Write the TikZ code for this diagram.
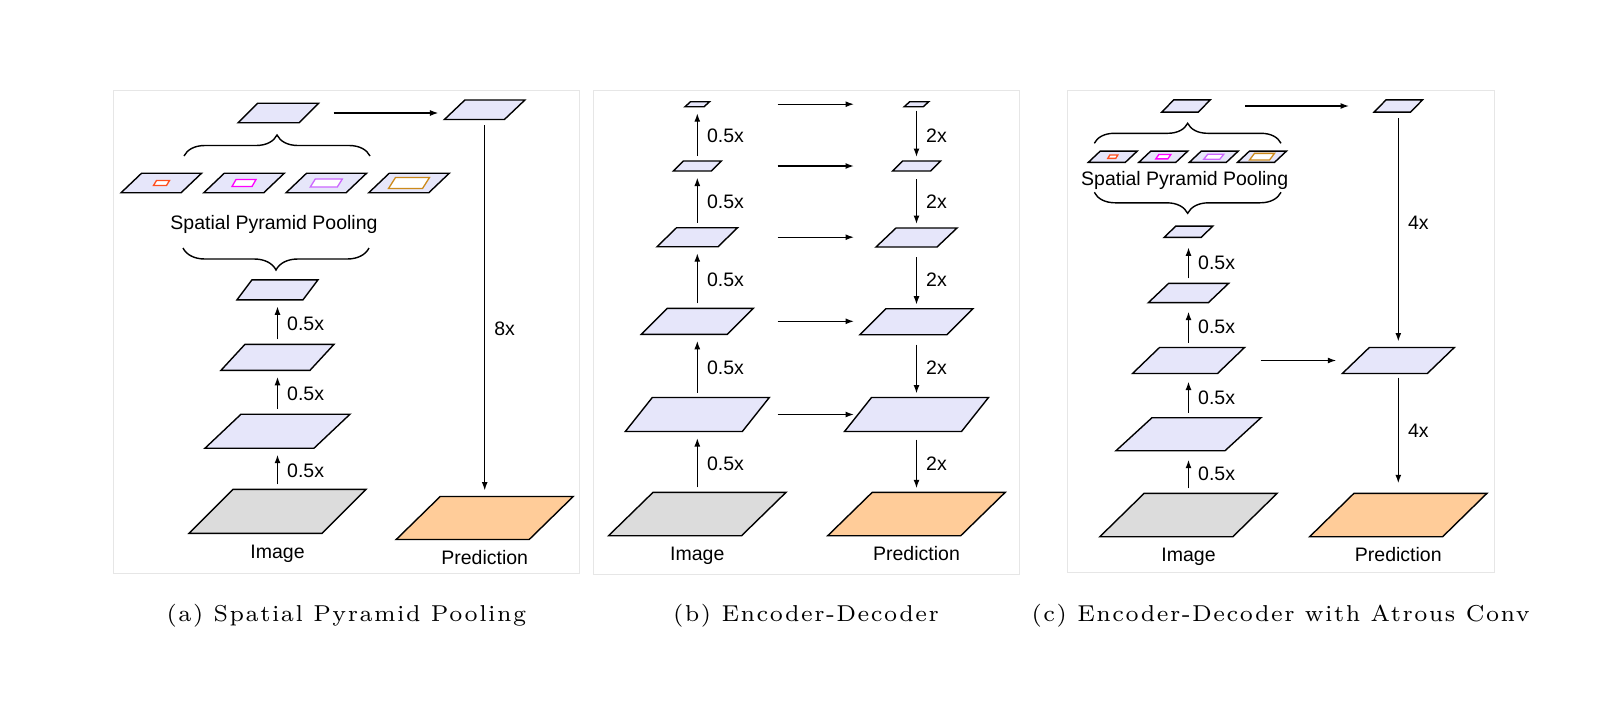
\documentclass[tikz,border=0pt]{standalone}
\usepackage{fontspec}
\setmainfont{Liberation Sans}
\newfontfamily\capfont[LetterSpace=6.5]{lmroman7-regular.otf}
\usetikzlibrary{arrows.meta,decorations.pathreplacing}

\definecolor{lav}{HTML}{E6E6FA}
\definecolor{imggray}{HTML}{DCDCDC}
\definecolor{predorange}{HTML}{FFCC99}
\definecolor{framegray}{HTML}{E6E6E6}
\definecolor{winred}{HTML}{FF4F1F}
\definecolor{winmag}{HTML}{FF00FF}
\definecolor{winvio}{HTML}{CC66FF}
\definecolor{wingold}{HTML}{CC8A1A}

% feature map: name, x, y, top width, height, slant, fill
\newcommand{\layer}[7]{%
  \filldraw[plane, fill=#7] ({#2-(#4+#6)/2},{#3+#5/2}) -- ++(#4,0) -- ++(#6,-#5) -- ++(-#4,0) -- cycle;
  \node[hold, minimum width={#4+#6}, minimum height={#5}] (#1) at (#2,#3) {};
}
% pooling window: x, y, top width, height, slant, colour
\newcommand{\window}[6]{%
  \filldraw[win, draw=#6, fill=white] ({#1-(#3+#5)/2},{#2+#4/2}) -- ++(#3,0) -- ++(#5,-#4) -- ++(-#3,0) -- cycle;
}

\begin{document}
\begin{tikzpicture}[x=1pt, y=-1pt,
	plane/.style={draw=black, line width=1.4pt, line join=miter},
	hold/.style={inner sep=0pt, outer sep=0pt, draw=none},
	win/.style={line width=1.3pt},
	arr/.style={line width=1.4pt, -{Latex[length=8.5pt,width=6pt]}},
	uparr/.style={arr, shorten <=5pt, shorten >=6.5pt},
	downarr/.style={arr, shorten <=6pt, shorten >=6pt},
	rate/.style={font=\fontsize{19.5}{22}\selectfont, inner sep=0pt, anchor=west, xshift=9pt, yshift=-2pt},
	lbl/.style={font=\fontsize{19.5}{22}\selectfont, inner sep=0pt, anchor=base},
	brc/.style={decorate, decoration={brace, amplitude=#1}, line width=1.4pt},
	panel/.style={draw=framegray, line width=1pt},
	capline/.style={font=\capfont\fontsize{23}{26}\selectfont, inner sep=0pt, anchor=base}]
	\useasboundingbox (0,0) rectangle (1600,713);

	% frames
	\draw[panel] (113,90) rectangle (579,573.3);
	\draw[panel] (593,90.7) rectangle (1019.3,574.3);
	\draw[panel] (1067.5,90) rectangle (1494,572.7);

	% (a) spatial pyramid pooling
	\layer{aimg}{277.5}{511.3}{133}{44}{44}{imggray}
	\layer{al1}{277.5}{431.2}{109}{34}{36}{lav}
	\layer{al2}{277.5}{357.3}{89}{26}{24}{lav}
	\layer{al3}{277.5}{289.8}{66}{20}{15}{lav}
	\layer{ap1}{161.3}{183}{60}{19.5}{20.5}{lav}
	\layer{ap2}{244}{183}{60}{19.5}{20.5}{lav}
	\layer{ap3}{326.3}{183}{60}{19.5}{20.5}{lav}
	\layer{ap4}{409}{183}{60}{19.5}{20.5}{lav}
	\window{161.5}{183}{13}{5}{3}{winred}
	\window{244}{183}{20}{7}{4}{winmag}
	\window{326.3}{183}{27}{8}{5}{winvio}
	\window{409}{183}{34}{11}{7}{wingold}
	\layer{atop}{278.3}{113}{61}{19.5}{19.5}{lav}
	\layer{aout}{484.7}{109.7}{60}{19.5}{20.5}{lav}
	\layer{apred}{484.7}{518}{133}{43}{44}{predorange}
	\node[lbl] (aimgtxt) at ([yshift=-25pt]aimg.south) {Image};
	\node[lbl] (apredtxt) at ([yshift=-25pt]apred.south) {Prediction};
	\node[lbl] (aspp) at (274,229) {Spatial Pyramid Pooling};
	\draw[brc=21pt] (184,156) -- (370,156);
	\draw[brc=22pt] (369,248) -- (183,248);
	\draw[uparr] (aimg.north) -- node[rate]{0.5x} (aimg.north |- al1.south);
	\draw[uparr] (al1.north) -- node[rate]{0.5x} (al1.north |- al2.south);
	\draw[uparr] (al2.north) -- node[rate]{0.5x} (al2.north |- al3.south);
	\draw[arr, shorten <=15pt, shorten >=6pt] (atop.east) -- (atop.east -| aout.west);
	\draw[downarr] (aout.south) -- node[rate, pos=0.55]{8x} (aout.south |- apred.north);

	% (b) encoder-decoder
	\layer{be4}{697.3}{104.2}{19}{5}{5.5}{lav}
	\layer{be3}{697.3}{166}{38}{10}{10}{lav}
	\layer{be2}{697.3}{237.2}{61}{19}{19.5}{lav}
	\layer{be1}{697.3}{321.3}{86}{26}{26}{lav}
	\layer{be0}{697.3}{414.5}{117}{34}{27}{lav}
	\layer{bimg}{697.3}{514}{133}{43.4}{44.5}{imggray}
	\layer{bd4}{916.5}{104.2}{19}{5}{5.5}{lav}
	\layer{bd3}{916.5}{166}{38}{10}{10}{lav}
	\layer{bd2}{916.5}{237.5}{61}{19}{20}{lav}
	\layer{bd1}{916.5}{321.7}{87}{26}{26}{lav}
	\layer{bd0}{916.5}{414.5}{117}{34}{27}{lav}
	\layer{bpred}{916.5}{514}{133}{43.4}{44.5}{predorange}
	\node[lbl] (bimgtxt) at ([yshift=-25pt]bimg.south) {Image};
	\node[lbl] (bpredtxt) at ([yshift=-25pt]bpred.south) {Prediction};
	\draw[uparr] (bimg.north) -- node[rate]{0.5x} (bimg.north |- be0.south);
	\draw[uparr] (be0.north) -- node[rate]{0.5x} (be0.north |- be1.south);
	\draw[uparr] (be1.north) -- node[rate]{0.5x} (be1.north |- be2.south);
	\draw[uparr] (be2.north) -- node[rate]{0.5x} (be2.north |- be3.south);
	\draw[uparr] (be3.north) -- node[rate]{0.5x} (be3.north |- be4.south);
	\draw[downarr, shorten <=4pt, shorten >=4pt] (bd4.south) -- node[rate]{2x} (bd4.south |- bd3.north);
	\draw[downarr, shorten <=8pt, shorten >=4pt] (bd3.south) -- node[rate]{2x} (bd3.south |- bd2.north);
	\draw[downarr, shorten <=10pt, shorten >=4pt] (bd2.south) -- node[rate]{2x} (bd2.south |- bd1.north);
	\draw[downarr, shorten <=10pt, shorten >=4pt] (bd1.south) -- node[rate]{2x} (bd1.south |- bd0.north);
	\draw[downarr, shorten <=8pt, shorten >=4pt] (bd0.south) -- node[rate]{2x} (bd0.south |- bpred.north);
	\coordinate (bskipl) at (777.5,0);
	\coordinate (bskipr) at (854,0);
	\foreach \lv in {4,3,2,1,0}
		\draw[arr] (be\lv -| bskipl) -- (be\lv -| bskipr);

	% (c) encoder-decoder with atrous conv
	\layer{cimg}{1188.5}{515}{133}{43.4}{44.3}{imggray}
	\layer{c0}{1188.5}{434.2}{109}{33}{36}{lav}
	\layer{c1}{1188.5}{360.5}{85}{26}{27}{lav}
	\layer{c2}{1188.5}{293}{60}{19.3}{20.3}{lav}
	\layer{c3}{1188.5}{231.7}{37}{11.3}{11.7}{lav}
	\layer{cp1}{1112.8}{156.7}{37}{11.3}{12}{lav}
	\layer{cp2}{1163.3}{156.7}{37}{11.3}{12}{lav}
	\layer{cp3}{1213.8}{156.7}{37}{11.3}{12}{lav}
	\layer{cp4}{1262}{156.7}{37}{11.3}{12}{lav}
	\window{1112.8}{156.7}{8}{3.3}{2}{winred}
	\window{1163.3}{156.7}{12}{4.3}{3}{winmag}
	\window{1213.8}{156.7}{16}{5}{4}{winvio}
	\window{1262}{156.7}{20}{6.7}{5}{wingold}
	\layer{ctop}{1186}{106}{36.5}{12.3}{12}{lav}
	\layer{cout}{1398.3}{106}{36.5}{12.3}{12}{lav}
	\layer{cmid}{1398.3}{360.5}{85}{26}{27}{lav}
	\layer{cpred}{1398.3}{515}{133}{43.4}{44.3}{predorange}
	\node[lbl] (cimgtxt) at ([yshift=-25pt]cimg.south) {Image};
	\node[lbl] (cpredtxt) at ([yshift=-25pt]cpred.south) {Prediction};
	\node[lbl] (cspp) at (1184.7,185) {Spatial Pyramid Pooling};
	\draw[brc=20pt] (1094.3,143.3) -- (1281,143.3);
	\draw[brc=21pt] (1281,192.3) -- (1094.3,192.3);
	\draw[uparr, shorten >=9pt] (cimg.north) -- node[rate]{0.5x} (cimg.north |- c0.south);
	\draw[uparr, shorten >=8pt] (c0.north) -- node[rate]{0.5x} (c0.north |- c1.south);
	\draw[uparr, shorten >=9pt] (c1.north) -- node[rate]{0.5x} (c1.north |- c2.south);
	\draw[uparr, shorten >=10pt] (c2.north) -- node[rate]{0.5x} (c2.north |- c3.south);
	\draw[arr, shorten <=35pt, shorten >=25pt] (ctop.east) -- (ctop.east -| cout.west);
	\draw[arr, shorten <=16pt, shorten >=6pt] (c1.east) -- (cmid.west);
	\draw[downarr] (cout.south) -- node[rate, pos=0.46]{4x} (cout.south |- cmid.north);
	\draw[downarr, shorten <=4pt, shorten >=10pt] (cmid.south) -- node[rate, pos=0.46]{4x} (cmid.south |- cpred.north);

	% captions
	\node[capline] (capa) at (346.5,621.5) {(a) Spatial Pyramid Pooling};
	\node[capline] (capb) at (806,621.5) {(b) Encoder-Decoder};
	\node[capline] (capc) at (1280.7,621.5) {(c) Encoder-Decoder with Atrous Conv};
\end{tikzpicture}
\end{document}
